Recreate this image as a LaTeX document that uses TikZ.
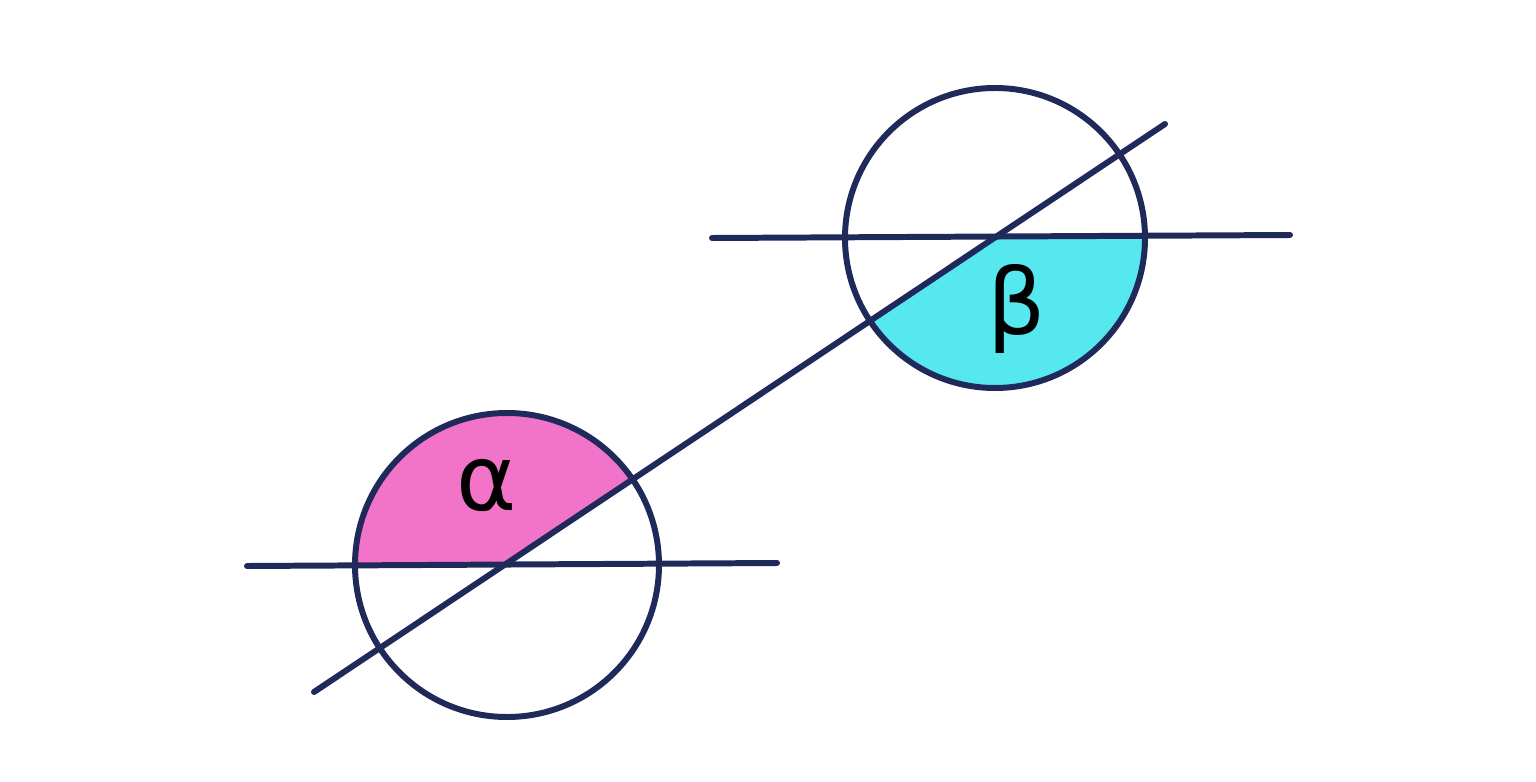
\documentclass[tikz,border=0pt]{standalone}
\usepackage{fontspec}
\setmainfont{DejaVu Sans}
\usetikzlibrary{positioning}
\definecolor{navy}{HTML}{1F2A5A}
\definecolor{pinkfill}{HTML}{F274C8}
\definecolor{cyanfill}{HTML}{55E8EE}
\begin{document}
\begin{tikzpicture}[x=0.01cm, y=0.01cm,
        line/.style={navy, line width=1.7pt, line cap=round},
        ring/.style={navy, line width=1.7pt},
        angletext/.style={font=\fontsize{26}{26}\selectfont, inner sep=0pt}
    ]
    \useasboundingbox (0,0) rectangle (1536,781);

    \coordinate (cA) at (507,216);
    \coordinate (cB) at (995,543);
    \coordinate (hA1) at (247,215);
    \coordinate (hA2) at (777,218);
    \coordinate (hB1) at (712,543);
    \coordinate (hB2) at (1290,546);
    \coordinate (tS) at (314,89);
    \coordinate (tE) at (1165,657);

    % shaded angles
    \fill[pinkfill] (cA) -- ++(33.7:152) arc[start angle=33.7, end angle=180, radius=152] -- cycle;
    \fill[cyanfill] (cB) -- ++(213.7:150) arc[start angle=213.7, end angle=360, radius=150] -- cycle;

    \draw[ring] (cA) circle[radius=152];
    \draw[ring] (cB) circle[radius=150];

    \draw[line] (hA1) -- (hA2);
    \draw[line] (hB1) -- (hB2);
    \draw[line] (tS) -- (tE);

    \node[angletext] (alpha) at (487,296) {α};
    \node[angletext] (beta) at (1017,472) {β};
\end{tikzpicture}
\end{document}
